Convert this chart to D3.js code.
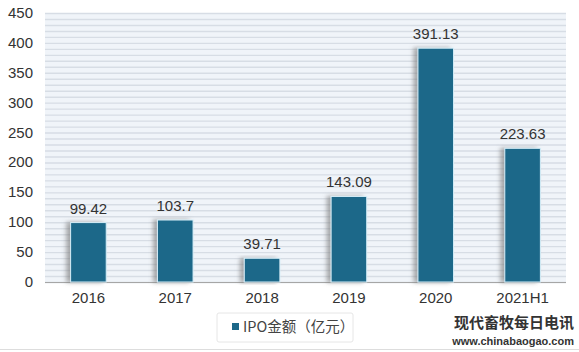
<!DOCTYPE html>
<html>
<head>
<meta charset="utf-8">
<script src="https://cdn.jsdelivr.net/npm/d3@7"></script>
<style>
  body { margin: 0; background: #fff; }
  text { font-family: "Liberation Sans", Arial, sans-serif; }
</style>
</head>
<body>
<div id="chart"></div>
<script>
// IPO amount by year
const years = ["2016", "2017", "2018", "2019", "2020", "2021H1"];
const amounts = [99.42, 103.7, 39.71, 143.09, 391.13, 223.63];
const labels = ["99.42", "103.7", "39.71", "143.09", "391.13", "223.63"];
const yTicks = [0, 50, 100, 150, 200, 250, 300, 350, 400, 450];
const legendText = "IPO金额（亿元）";

const width = 579, height = 352,
      margin = ({top: 13, right: 13, bottom: 70, left: 45});

let svg = d3.select("#chart")
  .append("svg")
  .attr("width", width)
  .attr("height", height);

// shadow left of bars
let defs = svg.append("defs");
defs.append("filter").attr("id", "shadow")
  .attr("x", "-40%").attr("y", "-10%").attr("width", "160%").attr("height", "120%")
  .append("feDropShadow")
  .attr("dx", -4).attr("dy", 0).attr("stdDeviation", 2)
  .attr("flood-color", "#777").attr("flood-opacity", 0.6);

const x = d3.scaleBand()
  .domain(years)
  .range([margin.left, width - margin.right])
  .paddingInner(0.59)
  .paddingOuter(0.295);

const y = d3.scaleLinear()
  .domain([0, 450])
  .range([height - margin.bottom, margin.top]);

// striped plot background
svg.append("rect")
  .attr("x", margin.left)
  .attr("y", margin.top)
  .attr("width", width - margin.right - margin.left)
  .attr("height", y(0) - margin.top)
  .attr("fill", "#f0f4f9");

svg.append("g")
  .selectAll("line")
  .data(d3.range(0, 451, 10))
  .join("line")
  .attr("x1", margin.left)
  .attr("x2", width - margin.right)
  .attr("y1", d => y(d) + 0.5)
  .attr("y2", d => y(d) + 0.5)
  .attr("stroke", "#d7dde5")
  .attr("stroke-width", 1.4);

// y axis labels
svg.append("g")
  .selectAll("text")
  .data(yTicks)
  .join("text")
  .attr("x", 33)
  .attr("y", d => y(d) + 5)
  .attr("text-anchor", "end")
  .attr("font-size", 15)
  .attr("fill", "#333")
  .text(d => d);

// baseline
svg.append("line")
  .attr("x1", margin.left)
  .attr("x2", width - margin.right)
  .attr("y1", y(0) + 0.5)
  .attr("y2", y(0) + 0.5)
  .attr("stroke", "#a6a6a6");

let bar = svg.selectAll(".bar")
  .data(years.map((d, i) => ({year: d, value: amounts[i], label: labels[i]})))
  .join("g")
  .attr("class", "bar");

bar.append("rect")
  .attr("x", d => x(d.year))
  .attr("y", d => y(d.value))
  .attr("width", x.bandwidth())
  .attr("height", d => y(0) - y(d.value))
  .attr("fill", "#1d6889")
  .attr("stroke", "#d6eef8")
  .attr("stroke-width", 1)
  .attr("filter", "url(#shadow)");

bar.append("text")
  .attr("x", d => x(d.year) + x.bandwidth() / 2)
  .attr("y", d => y(d.value) - 9)
  .attr("text-anchor", "middle")
  .attr("font-size", 15)
  .attr("fill", "#333")
  .text(d => d.label);

// x axis labels
svg.append("g")
  .selectAll("text")
  .data(years)
  .join("text")
  .attr("x", d => x(d) + x.bandwidth() / 2)
  .attr("y", y(0) + 21)
  .attr("text-anchor", "middle")
  .attr("font-size", 15)
  .attr("fill", "#333")
  .text(d => d);

// legend
let legend = svg.append("g");
legend.append("rect")
  .attr("x", 217).attr("y", 313)
  .attr("width", 136).attr("height", 29)
  .attr("fill", "#fff")
  .attr("stroke", "#e6e6e6")
  .attr("rx", 2);
legend.append("rect")
  .attr("x", 232).attr("y", 323)
  .attr("width", 7).attr("height", 7)
  .attr("fill", "#1d6889");
legend.append("text")
  .attr("x", 243).attr("y", 332)
  .attr("font-size", 14.5)
  .attr("fill", "#444")
  .style("font-family", "'Noto Sans CJK SC', sans-serif")
  .text(legendText);

// watermark
svg.append("text")
  .attr("x", 574).attr("y", 328)
  .attr("text-anchor", "end")
  .attr("font-size", 15)
  .attr("font-weight", "bold")
  .attr("fill", "#333")
  .style("font-family", "'Noto Sans CJK SC', sans-serif")
  .text("现代畜牧每日电讯");
svg.append("text")
  .attr("x", 574).attr("y", 345)
  .attr("text-anchor", "end")
  .attr("font-size", 11)
  .attr("font-weight", "bold")
  .attr("fill", "#333")
  .text("www.chinabaogao.com");

// bottom rule
svg.append("line")
  .attr("x1", 0).attr("x2", width)
  .attr("y1", 349.5).attr("y2", 349.5)
  .attr("stroke", "#ddd");
</script>
</body>
</html>
